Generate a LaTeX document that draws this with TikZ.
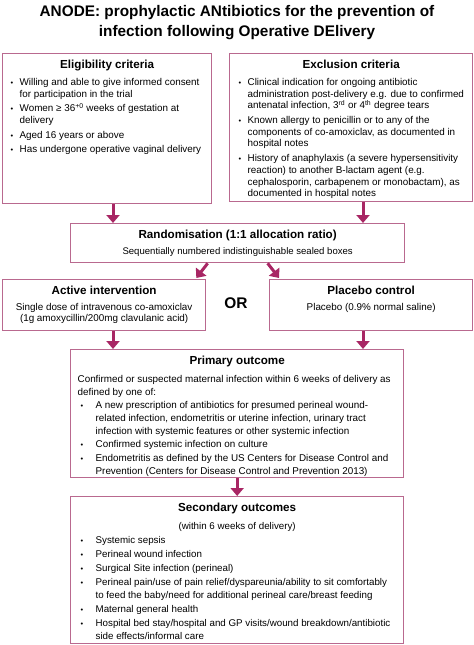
\documentclass[tikz,border=0pt]{standalone}
\usepackage{fontspec}
\setmainfont{Liberation Sans}
\usetikzlibrary{positioning, arrows.meta, calc}

\definecolor{boxline}{RGB}{185,105,143}
\definecolor{arrowred}{RGB}{168,38,100}

\newcommand{\boxbody}[3]{\parbox[c][#1][t]{#2}{\raggedright #3}}
\newcommand{\boxhead}[1]{{\centering\fontsize{11.7}{14}\selectfont\bfseries\rule{0pt}{14.5bp}#1\par}\vspace{5.5bp}}
\newenvironment{bitems}[3]{\begin{list}{\fontsize{7.5}{7.5}\selectfont\textbullet}{%
	\setlength{\leftmargin}{#1}\setlength{\labelsep}{#2}%
	\setlength{\labelwidth}{\dimexpr#1-#2\relax}\setlength{\itemindent}{0pt}%
	\setlength{\itemsep}{#3}\setlength{\topsep}{0pt}\setlength{\partopsep}{0pt}\setlength{\parsep}{0pt}}}{\end{list}}

\begin{document}
\begin{tikzpicture}[x=1bp, y=-1bp,
	box/.style={draw=boxline, line width=1.3bp, inner xsep=6bp, inner ysep=0pt, anchor=north west, fill=white},
	arr/.style={draw=arrowred, line width=3bp, -{Triangle[width=13bp, length=8bp]}}]
	\useasboundingbox (0,0) rectangle (474,645);

	\node[font=\fontsize{15.4}{20}\selectfont\bfseries, align=center] (title) at (237,23) {ANODE: prophylactic ANtibiotics for the prevention of\\infection following Operative DElivery};

	% criteria
	\node[box] (elig) at (2,53) {\boxbody{150bp}{197bp}{\fontsize{9.9}{11.8}\selectfont
		\boxhead{Eligibility criteria}
		\begin{bitems}{11bp}{6.5bp}{2.8bp}
			\item Willing and able to give informed consent\\for participation in the trial
			\item Women ≥ 36\textsuperscript{+0} weeks of gestation at\\delivery
			\item Aged 16 years or above
			\item Has undergone operative vaginal delivery
		\end{bitems}}};
	\node[box, inner xsep=3bp] (excl) at (229,53) {\boxbody{148bp}{237bp}{\fontsize{9.9}{11.8}\selectfont
		\boxhead{Exclusion criteria}
		\begin{bitems}{15bp}{6.5bp}{2.8bp}
			\item Clinical indication for ongoing antibiotic\\administration post-delivery e.g. due to confirmed\\antenatal infection, 3\textsuperscript{rd} or 4\textsuperscript{th} degree tears
			\item Known allergy to penicillin or to any of the\\components of co-amoxiclav, as documented in\\hospital notes
			\item History of anaphylaxis (a severe hypersensitivity\\reaction) to another B-lactam agent (e.g.\\cephalosporin, carbapenem or monobactam), as\\documented in hospital notes
		\end{bitems}}};

	% randomisation and arms
	\node[box] (rand) at (70,223) {\boxbody{39bp}{322bp}{\centering\fontsize{9.6}{11}\selectfont
		\boxhead{Randomisation (1:1 allocation ratio)}
		Sequentially numbered indistinguishable sealed boxes}};
	\node[box] (active) at (2,279) {\boxbody{51bp}{191bp}{\centering\fontsize{9.9}{11}\selectfont
		\boxhead{Active intervention}
		Single dose of intravenous co-amoxiclav\\(1g amoxycillin/200mg clavulanic acid)}};
	\node[box] (placebo) at (269,279) {\boxbody{51bp}{191bp}{\centering\fontsize{9.9}{11}\selectfont
		\boxhead{Placebo control}
		Placebo (0.9\% normal saline)}};
	\node[font=\fontsize{15.5}{18}\selectfont\bfseries] (or) at (236,303) {OR};

	% outcomes
	\node[box, inner xsep=7bp] (primary) at (70,349) {\boxbody{128bp}{319bp}{\fontsize{9.9}{13.1}\selectfont
		\boxhead{Primary outcome}
		Confirmed or suspected maternal infection within 6 weeks of delivery as\\defined by one of:
		\begin{bitems}{18bp}{12.5bp}{0bp}
			\item A new prescription of antibiotics for presumed perineal wound-\\related infection, endometritis or uterine infection, urinary tract\\infection with systemic features or other systemic infection
			\item Confirmed systemic infection on culture
			\item Endometritis as defined by the US Centers for Disease Control and\\Prevention (Centers for Disease Control and Prevention 2013)
		\end{bitems}}};
	\node[box, inner xsep=7bp] (secondary) at (70,496) {\boxbody{147bp}{319bp}{\fontsize{9.8}{13.3}\selectfont
		\boxhead{Secondary outcomes}
		{\centering (within 6 weeks of delivery)\par}
		\begin{bitems}{18bp}{12.5bp}{0.8bp}
			\item Systemic sepsis
			\item Perineal wound infection
			\item Surgical Site infection (perineal)
			\item Perineal pain/use of pain relief/dyspareunia/ability to sit comfortably\\to feed the baby/need for additional perineal care/breast feeding
			\item Maternal general health
			\item Hospital bed stay/hospital and GP visits/wound breakdown/antibiotic\\side effects/informal care
		\end{bitems}}};

	\coordinate (colL) at (113,0);
	\coordinate (colR) at (363,0);
	\draw[arr] (elig.south -| colL) -- (rand.north -| colL);
	\draw[arr] (excl.south -| colR) -- (rand.north -| colR);
	\draw[arr] ($(rand.south)+(-30,0)$) -- ($(active.north east)+(-10,-1)$);
	\draw[arr] ($(rand.south)+(30,0)$) -- ($(placebo.north west)+(10,-1)$);
	\draw[arr] (active.south -| colL) -- (primary.north -| colL);
	\draw[arr] (placebo.south -| colR) -- (primary.north -| colR);
	\draw[arr] (primary.south) -- (secondary.north);
\end{tikzpicture}
\end{document}
